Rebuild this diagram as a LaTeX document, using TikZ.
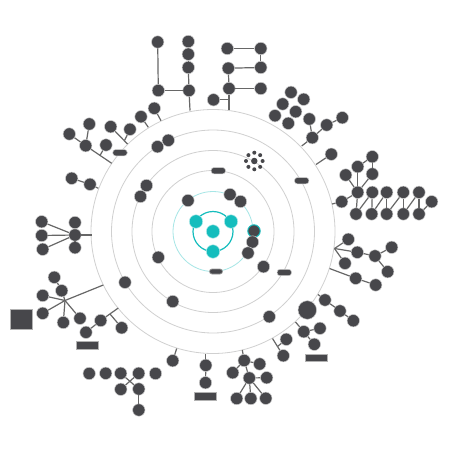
\documentclass[tikz,border=0pt]{standalone}
\usetikzlibrary{calc}
\definecolor{dk}{HTML}{47474B}
\definecolor{tl}{HTML}{14BDBD}
\definecolor{ltl}{HTML}{A6E6E6}
\definecolor{rg}{HTML}{D0D0D0}
\definecolor{ln}{HTML}{676767}
\begin{document}
\begin{tikzpicture}[x=1pt,y=-1pt,
 dn/.style={circle,fill=dk,draw=white!80!black,line width=0.5pt,minimum size=12.4pt,inner sep=0pt},
 tn/.style={circle,fill=tl,draw=white!70!tl,line width=0.5pt,minimum size=13.5pt,inner sep=0pt},
 pillbox/.style={rectangle,rounded corners=3pt,fill=dk,draw=white!80!black,line width=0.5pt,minimum width=14.5pt,minimum height=6.4pt,inner sep=0pt},
 tagbox/.style={rectangle,fill=dk,draw=black!30,line width=0.8pt,inner sep=0pt},
 edge/.style={draw=ln,line width=1.2pt},
 ring/.style={draw=rg,line width=0.8pt},
 dot/.style={circle,fill=dk,minimum size=4pt,inner sep=0pt}]
\useasboundingbox (0,0) rectangle (450,450);
\fill[white] (0,0) rectangle (450,450);
\coordinate (O) at (213,231.5);
% rings
\draw[ring] (O) circle[radius=61];
\draw[ring] (O) circle[radius=81];
\draw[ring] (O) circle[radius=101.5];
\draw[ring] (O) circle[radius=122];
\draw[draw=ltl,line width=0.8pt] (O) circle[radius=40];
\draw[draw=tl,line width=1.2pt] (O) circle[radius=20];
% centre
\node[tn] (c0) at (213,231.5) {};
\node[tn] (t1) at (196,221.5) {};
\node[tn] (t2) at (231,221.5) {};
\node[tn] (t3) at (213,251.5) {};
% inner ring nodes
\node[dn] (a1) at (188,200.5) {};
\node[dn] (a2) at (230,194.5) {};
\node[dn] (a3) at (240.5,201.5) {};
\node[dn,draw=tl,line width=1pt] (a4) at (254,231) {};
\node[dn] (a5) at (252.5,242) {};
\node[dn] (a6) at (248,253) {};
\node[pillbox,minimum width=13pt,minimum height=5pt,rounded corners=2.5pt,draw=white!60!black,line width=0.7pt] (p0) at (216,271.5) {};
% ring 61
\node[dn] (b1) at (158.3,257.3) {};
\node[dn] (b2) at (263.5,266.7) {};
\node[pillbox] (p1) at (218.3,170.7) {};
% ring 81
\node[dn] (b3) at (146.5,185.5) {};
\node[dn] (b4) at (140.5,196.5) {};
\node[dn] (b5) at (172.7,301.5) {};
\node[pillbox] (p2) at (284.3,272.5) {};
\node[circle,fill=dk,minimum size=6.5pt,inner sep=0pt] (fl) at (254.3,161) {};
\foreach \a in {0,45,...,315}{\node[dot] at ($(fl)+(\a:8.3)$) {};}
% ring 101
\node[dn] (b6) at (157.5,146.7) {};
\node[dn] (b7) at (168.3,140.3) {};
\node[dn] (b8) at (125,282.3) {};
\node[dn] (b9) at (269.3,316.7) {};
\node[pillbox] (p3) at (301.7,180.7) {};
% ring 122
\node[dn,minimum size=18.6pt] (B) at (307.3,310) {};
\node[pillbox] (p4) at (120,152.7) {};
% G1
\node[dn] (n1) at (157.7,42) {};
\node[dn] (n2) at (188.3,41.5) {};
\node[dn] (n3) at (188.3,54.2) {};
\node[dn] (n4) at (188.3,67.5) {};
\node[dn] (n5) at (158.3,90.5) {};
\node[dn] (n6) at (189,90.5) {};
\coordinate (cn) at (190,110.5);
\draw[edge] (n1)--(n5); \draw[edge] (n5)--(n6); \draw[edge] (n2)--(n3);
\draw[edge] (n3)--(n4); \draw[edge] (n4)--(n6); \draw[edge] (n6)--(cn);
% G2
\node[dn] (m1) at (227.3,48.5) {};
\node[dn] (m2) at (260.8,48.5) {};
\node[dn] (m3) at (228.3,68.2) {};
\node[dn] (m4) at (260.8,67.5) {};
\node[dn] (m5) at (229,88.5) {};
\node[dn] (m6) at (260.8,88.5) {};
\node[dn] (m7) at (213.5,99.8) {};
\coordinate (cm) at (229,109.7);
\coordinate (jm) at (229,99.8);
\draw[edge] (m1)--(m2); \draw[edge] (m2)--(m4); \draw[edge] (m3)--(m4);
\draw[edge] (m3)--(m5); \draw[edge] (m5)--(m6); \draw[edge] (m5)--(cm);
\draw[edge] (m7)--(jm);
% G3 cluster
\node[dn] (k31) at (291,92.3) {};
\node[dn] (k32) at (303.7,99.3) {};
\node[dn] (k33) at (282.7,104) {};
\node[dn] (k34) at (295.7,111.7) {};
\node[dn] (k35) at (275,115.7) {};
\node[dn] (k36) at (288.3,123.3) {};
% G4
\node[dn] (q1) at (309.3,119) {};
\node[dn] (q2) at (326.7,125) {};
\node[dn] (q3) at (342.3,117.7) {};
\node[dn] (q4) at (312.3,137.7) {};
\coordinate (cq) at (301.7,146);
\draw[edge] (q4)--(q1); \draw[edge] (q4)--(q2); \draw[edge] (q2)--(q3); \draw[edge] (q4)--(cq);
% G5
\node[dn] (r1) at (331.3,154.2) {};
\coordinate (cr) at (316,164.5);
\draw[edge] (r1)--(cr);
% G6
\node[dn] (s1) at (372.3,156.7) {};
\node[dn] (s2) at (357.7,166.7) {};
\node[dn] (s3) at (345.7,175) {};
\node[dn] (s4) at (372.3,174) {};
\node[dn] (s5) at (357.7,192.3) {};
\node[dn] (s6) at (341.7,201.7) {};
\node[dn] (s7) at (356,214) {};
\node[dn] (s8) at (372.3,192.3) {};
\node[dn] (s9) at (371.7,214) {};
\node[dn] (s10) at (386.7,192.3) {};
\node[dn] (s11) at (386.7,214) {};
\node[dn] (s12) at (403.3,192.3) {};
\node[dn] (s13) at (403.3,214) {};
\node[dn] (s14) at (419,192.3) {};
\node[dn] (s15) at (419,214) {};
\node[dn] (s16) at (431.7,201.7) {};
\coordinate (cs) at (332,204);
\draw[edge] (s1)--(s2); \draw[edge] (s1)--(s4); \draw[edge] (s2)--(s5);
\draw[edge] (s4)--(s5); \draw[edge] (s3)--(s5); \draw[edge] (s5)--(s6);
\draw[edge] (s6)--(cs); \draw[edge] (s5)--(s7); \draw[edge] (s7)--(s8);
\draw[edge] (s8)--(s9); \draw[edge] (s9)--(s10); \draw[edge] (s10)--(s11);
\draw[edge] (s11)--(s12); \draw[edge] (s12)--(s13); \draw[edge] (s13)--(s14);
\draw[edge] (s14)--(s15); \draw[edge] (s15)--(s16);
% G7
\node[dn] (u1) at (348.3,239.3) {};
\node[dn] (u2) at (357.3,252.3) {};
\node[dn] (u3) at (345,263.3) {};
\node[dn] (u4) at (375,256) {};
\node[dn] (u5) at (391.7,247.3) {};
\node[dn] (u6) at (387.7,271.7) {};
\coordinate (cu) at (334.5,248.5);
\draw[edge] (cu)--(u1); \draw[edge] (cu)--(u2); \draw[edge] (cu)--(u3);
\draw[edge] (u2)--(u4); \draw[edge] (u4)--(u5); \draw[edge] (u4)--(u6);
% G8
\node[dn] (v1) at (355.7,278.3) {};
\node[dn] (v2) at (375.7,285) {};
\coordinate (cv) at (329.5,268.5);
\draw[edge] (cv)--(v1); \draw[edge] (v1)--(v2);
% G9
\node[dn] (w1) at (325,300) {};
\node[dn] (w2) at (340,311) {};
\node[dn] (w3) at (353.3,320.7) {};
\coordinate (cw) at (318,294.5);
\draw[edge] (cw)--(w1); \draw[edge] (w1)--(w2); \draw[edge] (w2)--(w3);
% G10
\node[dn] (x1) at (303.8,331.7) {};
\node[dn] (x2) at (320,328.3) {};
\node[dn] (x3) at (314.3,344.3) {};
\coordinate (cx) at (295.5,322);
\draw[edge] (cx)--(x1); \draw[edge] (x1)--(x2); \draw[edge] (x1)--(x3);
\node[tagbox,minimum width=21.7pt,minimum height=7.3pt] (bx1) at (316.3,357.6) {};
% G11
\node[dn] (y1) at (286.3,339.3) {};
\node[dn] (y2) at (283.3,355.7) {};
\coordinate (cy) at (272.5,338.5);
\coordinate (jy) at (277.5,346.5);
\draw[edge] (cy)--(jy); \draw[edge] (jy)--(y1); \draw[edge] (jy)--(y2);
% G12
\node[dn] (z1) at (244.2,360.5) {};
\node[dn] (z2) at (259.7,364) {};
\node[dn] (z3) at (232.7,372.7) {};
\node[dn] (z4) at (249.3,378) {};
\node[dn] (z5) at (266.7,377.7) {};
\node[dn] (z6) at (236.7,398.5) {};
\node[dn] (z7) at (250.8,398.5) {};
\node[dn] (z8) at (265.8,398.3) {};
\coordinate (cz) at (242.3,350);
\draw[edge] (cz)--(z1); \draw[edge] (z1)--(z2); \draw[edge] (z1)--(z3);
\draw[edge] (z1)--(z4); \draw[edge] (z4)--(z5); \draw[edge] (z4)--(z6);
\draw[edge] (z4)--(z7); \draw[edge] (z4)--(z8);
% G13
\node[dn] (d1) at (205.8,365.3) {};
\node[dn] (d2) at (205.5,382.7) {};
\coordinate (cd) at (205.8,354);
\draw[edge] (cd)--(d1); \draw[edge] (d1)--(d2);
\node[tagbox,minimum width=22.4pt,minimum height=8pt] (bx2) at (205.5,396.7) {};
% G14
\node[dn] (e1) at (172.7,360.7) {};
\coordinate (ce) at (176.7,348.5);
\draw[edge] (ce)--(e1);
% G15
\node[dn] (f1) at (89.2,373.5) {};
\node[dn] (f2) at (105.7,373.3) {};
\node[dn] (f3) at (120.7,373.3) {};
\node[dn] (f4) at (138.7,373.3) {};
\node[dn] (f5) at (155.5,373.5) {};
\node[dn] (f6) at (120.8,389.3) {};
\node[dn] (f7) at (138.8,389) {};
\node[dn] (f8) at (138.8,410) {};
\draw[edge] (f3)--(f7); \draw[edge] (f4)--(f6); \draw[edge] (f7)--(f8);
% G16
\node[dn] (g1) at (100.7,320.5) {};
\node[dn] (g2) at (86,332.3) {};
\node[dn] (g3) at (121.7,327.8) {};
\coordinate (cg) at (118.3,308);
\coordinate (jg) at (110,314);
\draw[edge] (cg)--(g1); \draw[edge] (g1)--(g2); \draw[edge] (jg)--(g3);
\node[tagbox,minimum width=22.3pt,minimum height=8pt] (bx3) at (87.2,345) {};
% G17
\node[dn] (h1) at (54.3,277.3) {};
\node[dn] (h2) at (61.7,290.7) {};
\node[dn] (h3) at (42.7,295.5) {};
\node[dn] (h4) at (42.7,313.3) {};
\node[dn] (h5) at (63.3,322.5) {};
\node[dn] (h6) at (80,318.3) {};
\coordinate (hh) at (65,300.5);
\coordinate (ch) at (103.3,285);
\draw[edge] (h1)--(h2); \draw[edge] (h2)--(hh); \draw[edge] (h3)--(hh);
\draw[edge] (h4)--(hh); \draw[edge] (h5)--(hh); \draw[edge] (h6)--(hh);
\draw[edge] (hh)--(ch);
\node[tagbox,minimum width=22.3pt,minimum height=20pt] (bx4) at (21.7,319.3) {};
% G18
\node[dn] (k) at (75,235) {};
\node[dn] (k1) at (41.7,221.7) {};
\node[dn] (k2) at (75,222.5) {};
\node[dn] (k3) at (41.7,235.5) {};
\node[dn] (k4) at (42.7,249.3) {};
\node[dn] (k5) at (75,247.7) {};
\coordinate (ck) at (91.7,235);
\draw[edge] (k1)--(k); \draw[edge] (k3)--(k); \draw[edge] (k4)--(k);
\draw[edge] (k2)--(k); \draw[edge] (k5)--(k); \draw[edge] (k)--(ck);
% G19
\node[dn] (l1) at (71.7,178.3) {};
\node[dn] (l2) at (90,184.3) {};
\coordinate (cl) at (98.3,188.3);
\draw[edge] (l1)--(l2); \draw[edge] (l2)--(cl);
% G20
\node[dn] (o1) at (89.3,124) {};
\node[dn] (o2) at (69.3,134) {};
\node[dn] (o3) at (85.7,145.7) {};
\node[dn] (o4) at (106,145) {};
\coordinate (co) at (111.7,163.3);
\coordinate (jo) at (100,155.4);
\draw[edge] (o1)--(o3); \draw[edge] (o2)--(o3); \draw[edge] (o3)--(co); \draw[edge] (o4)--(jo);
% G21
\node[dn] (i1) at (110.7,126.7) {};
\node[dn] (i2) at (130,129.3) {};
\coordinate (ci) at (127.5,144);
\coordinate (ji) at (124.5,140.5);
\draw[edge] (i1)--(ci); \draw[edge] (i2)--(ji);
% G22
\node[dn] (pa) at (154.3,108.3) {};
\node[dn] (pb) at (141,116.7) {};
\coordinate (cpa) at (161,120.7);
\coordinate (cpb) at (148.3,127.3);
\draw[edge] (pa)--(cpa); \draw[edge] (pb)--(cpb);
\end{tikzpicture}
\end{document}
